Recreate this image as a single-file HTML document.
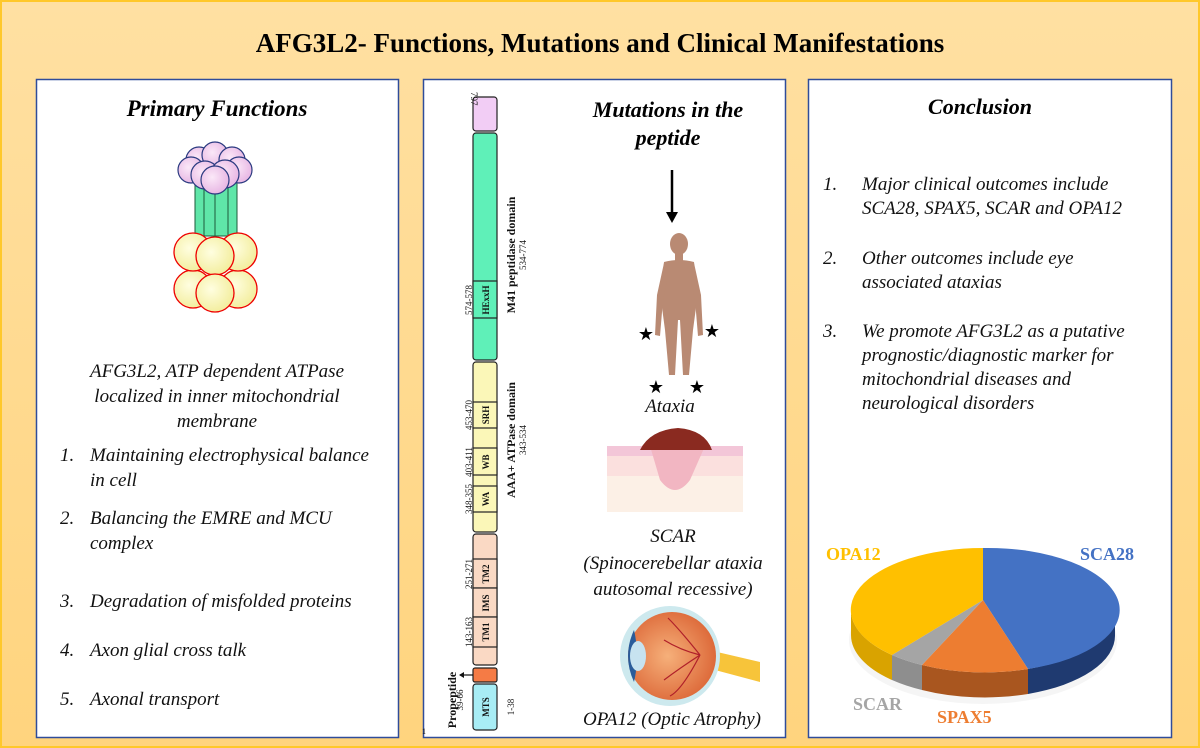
<!DOCTYPE html>
<html><head><meta charset="utf-8"><style>
html,body{margin:0;padding:0;width:1200px;height:748px;overflow:hidden}
svg{display:block}
text{font-family:"Liberation Serif",serif}
.it{font-style:italic;font-size:19px;fill:#111}
</style></head><body>
<svg width="1200" height="748" viewBox="0 0 1200 748" xmlns="http://www.w3.org/2000/svg">
<defs>
<linearGradient id="bg" x1="0" y1="0" x2="0" y2="1"><stop offset="0" stop-color="#FFE0A2"/><stop offset="1" stop-color="#FFD47E"/></linearGradient>
<radialGradient id="yb" cx="0.4" cy="0.4" r="0.6"><stop offset="0" stop-color="#FFFEE0"/><stop offset="1" stop-color="#F3EEA0"/></radialGradient>
<radialGradient id="pb" cx="0.4" cy="0.4" r="0.6"><stop offset="0" stop-color="#FBE8F8"/><stop offset="1" stop-color="#E8B8E4"/></radialGradient>
<radialGradient id="eye" cx="0.45" cy="0.5" r="0.55"><stop offset="0" stop-color="#F6B07A"/><stop offset="1" stop-color="#DD6A3A"/></radialGradient>
</defs>
<rect x="0" y="0" width="1200" height="748" fill="url(#bg)"/>
<rect x="1" y="1" width="1198" height="746" fill="none" stroke="#FFC82A" stroke-width="2"/>
<text x="600" y="52" text-anchor="middle" font-size="27" font-weight="bold" fill="#000">AFG3L2- Functions, Mutations and Clinical Manifestations</text>

<rect x="36.5" y="79.5" width="362" height="658" fill="#fff" stroke="#2F4C9A" stroke-width="1.5"/>
<rect x="423.5" y="79.5" width="362" height="658" fill="#fff" stroke="#2F4C9A" stroke-width="1.5"/>
<rect x="808.5" y="79.5" width="363" height="658" fill="#fff" stroke="#2F4C9A" stroke-width="1.5"/>

<!-- Left panel -->
<text x="217" y="116" text-anchor="middle" font-size="23" font-weight="bold" font-style="italic">Primary Functions</text>
<g stroke="#1E5A3A" stroke-width="1">
<rect x="195" y="178" width="42" height="58" fill="#5FE6A8"/>
<line x1="204" y1="180" x2="204" y2="236"/><line x1="215" y1="182" x2="215" y2="236"/><line x1="228" y1="180" x2="228" y2="236"/>
</g>
<g stroke="#E00" stroke-width="1.3" fill="url(#yb)">
<circle cx="193" cy="289" r="19"/><circle cx="238" cy="289" r="19"/>
<circle cx="193" cy="252" r="19"/><circle cx="238" cy="252" r="19"/>
<circle cx="215" cy="256" r="19"/><circle cx="215" cy="293" r="19"/>
</g>
<g stroke="#2A3A80" stroke-width="1.2" fill="url(#pb)">
<circle cx="199" cy="160" r="13"/><circle cx="215" cy="155" r="13"/><circle cx="232" cy="160" r="13"/>
<circle cx="191" cy="170" r="13"/><circle cx="239" cy="170" r="13"/>
<circle cx="205" cy="175" r="14"/><circle cx="225" cy="174" r="14"/><circle cx="215" cy="180" r="14"/>
</g>
<text class="it" x="217" y="377" text-anchor="middle">AFG3L2, ATP dependent ATPase</text>
<text class="it" x="217" y="402" text-anchor="middle">localized in inner mitochondrial</text>
<text class="it" x="217" y="427" text-anchor="middle">membrane</text>
<g class="it">
<text class="it" x="60" y="461">1.</text><text class="it" x="90" y="461">Maintaining electrophysical balance</text>
<text class="it" x="90" y="486">in cell</text>
<text class="it" x="60" y="524">2.</text><text class="it" x="90" y="524">Balancing the EMRE and MCU</text>
<text class="it" x="90" y="549">complex</text>
<text class="it" x="60" y="607">3.</text><text class="it" x="90" y="607">Degradation of  misfolded proteins</text>
<text class="it" x="60" y="656">4.</text><text class="it" x="90" y="656">Axon glial cross talk</text>
<text class="it" x="60" y="705">5.</text><text class="it" x="90" y="705">Axonal transport</text>
</g>

<!-- Middle: protein bar -->
<g stroke="#222" stroke-width="1.2">
<rect x="473" y="97" width="24" height="34" rx="3" fill="#F2CDF5"/>
<rect x="473" y="133" width="24" height="227" rx="3" fill="#5FF0B8"/>
<rect x="473" y="281" width="24" height="37" fill="#5FF0B8"/>
<rect x="473" y="362" width="24" height="170" rx="3" fill="#FBF7B8"/>
<rect x="473" y="402" width="24" height="26" fill="#FBF7B8"/>
<rect x="473" y="448" width="24" height="27" fill="#FBF7B8"/>
<rect x="473" y="486" width="24" height="26" fill="#FBF7B8"/>
<rect x="473" y="534" width="24" height="131" rx="3" fill="#FAD9C4"/>
<rect x="473" y="559" width="24" height="29" fill="#FAD9C4"/>
<rect x="473" y="588" width="24" height="29" fill="#FAD9C4"/>
<rect x="473" y="617" width="24" height="30" fill="#FAD9C4"/>
<rect x="473" y="668" width="24" height="14" rx="2" fill="#F57B45"/>
<rect x="473" y="684" width="24" height="46" rx="3" fill="#A8EDF5"/>
</g>
<g font-size="9" font-weight="bold" fill="#111">
<text transform="translate(489,300) rotate(-90)" text-anchor="middle">HExxH</text>
<text transform="translate(489,415) rotate(-90)" text-anchor="middle">SRH</text>
<text transform="translate(489,462) rotate(-90)" text-anchor="middle">WB</text>
<text transform="translate(489,499) rotate(-90)" text-anchor="middle">WA</text>
<text transform="translate(489,574) rotate(-90)" text-anchor="middle">TM2</text>
<text transform="translate(489,603) rotate(-90)" text-anchor="middle">IMS</text>
<text transform="translate(489,632) rotate(-90)" text-anchor="middle">TM1</text>
<text transform="translate(489,707) rotate(-90)" text-anchor="middle">MTS</text>
</g>
<g font-size="9" fill="#111">
<text transform="translate(471,92) rotate(90)">797</text>
<text transform="translate(472,300) rotate(-90)" text-anchor="middle">574-578</text>
<text transform="translate(472,415) rotate(-90)" text-anchor="middle">453-470</text>
<text transform="translate(472,462) rotate(-90)" text-anchor="middle">403-411</text>
<text transform="translate(472,499) rotate(-90)" text-anchor="middle">348-355</text>
<text transform="translate(472,574) rotate(-90)" text-anchor="middle">251-271</text>
<text transform="translate(472,632) rotate(-90)" text-anchor="middle">143-163</text>
<text transform="translate(514,707) rotate(-90)" text-anchor="middle">1-38</text>
<text transform="translate(463,700) rotate(-90)" text-anchor="middle">39-66</text>
<text transform="translate(526,255) rotate(-90)" text-anchor="middle">534-774</text>
<text transform="translate(526,440) rotate(-90)" text-anchor="middle">343-534</text>
</g>
<g font-size="12" font-weight="bold" fill="#111">
<text transform="translate(515,255) rotate(-90)" text-anchor="middle">M41 peptidase domain</text>
<text transform="translate(515,440) rotate(-90)" text-anchor="middle">AAA+ ATPase domain</text>
<text transform="translate(456,700) rotate(-90)" text-anchor="middle">Propeptide</text>
</g>
<line x1="473" y1="675" x2="460" y2="675" stroke="#111" stroke-width="1.2"/>
<path d="M459 675 l5 -3 v6z" fill="#111"/>
<text x="422" y="734" font-size="8">1</text>

<text x="668" y="117" text-anchor="middle" font-size="22" font-weight="bold" font-style="italic">Mutations in the</text>
<text x="668" y="145" text-anchor="middle" font-size="22" font-weight="bold" font-style="italic">peptide</text>
<line x1="672" y1="170" x2="672" y2="214" stroke="#000" stroke-width="2.5"/>
<path d="M666 212 L678 212 L672 223 Z" fill="#000"/>

<!-- human -->
<g fill="#B98A73">
<ellipse cx="679" cy="244" rx="9" ry="11"/>
<rect x="675" y="253" width="8" height="8"/>
<path d="M664 262 Q679 258 694 262 L697 300 L693 330 L689 375 L683 375 L680 320 L678 320 L675 375 L669 375 L665 330 L661 300 Z"/>
<path d="M664 263 L657 295 L655 335 L660 336 L663 300 L668 275 Z"/>
<path d="M694 263 L701 295 L703 335 L698 336 L695 300 L690 275 Z"/>
</g>
<g font-size="18" fill="#000">
<text x="646" y="340" text-anchor="middle">★</text><text x="712" y="337" text-anchor="middle">★</text>
<text x="656" y="393" text-anchor="middle">★</text><text x="697" y="393" text-anchor="middle">★</text>
</g>
<text class="it" x="670" y="412" text-anchor="middle">Ataxia</text>
<!-- scar -->
<rect x="607" y="450" width="136" height="62" fill="#FCF0E6"/>
<rect x="607" y="446" width="136" height="10" fill="#F3C6D8"/>
<rect x="607" y="456" width="136" height="20" fill="#FBE0DE"/>
<path d="M650 446 L705 446 L690 480 Q675 500 660 480 Z" fill="#F2B6C2"/>
<path d="M640 450 Q650 430 678 428 Q705 430 712 450 Z" fill="#8A2A20"/>
<text class="it" x="673" y="542" text-anchor="middle">SCAR</text>
<text class="it" x="673" y="569" text-anchor="middle">(Spinocerebellar ataxia</text>
<text class="it" x="673" y="595" text-anchor="middle">autosomal recessive)</text>
<!-- eye -->
<path d="M700 648 L760 662 L760 682 L700 666 Z" fill="#F7C43A"/>
<circle cx="670" cy="656" r="50" fill="#CDE9EE"/>
<circle cx="672" cy="656" r="44" fill="url(#eye)"/>
<path d="M634 630 Q622 656 634 682 Q640 656 634 630Z" fill="#2A5C9A"/>
<ellipse cx="638" cy="656" rx="8" ry="15" fill="#C7E3F0"/>
<g stroke="#B0202A" stroke-width="1.2" fill="none">
<path d="M700 655 Q680 630 668 618"/><path d="M700 655 Q680 650 664 640"/><path d="M700 655 Q680 668 664 680"/><path d="M700 655 Q682 690 670 696"/>
</g>
<text class="it" x="672" y="725" text-anchor="middle">OPA12 (Optic Atrophy)</text>

<!-- Right panel -->
<text x="980" y="114" text-anchor="middle" font-size="22" font-weight="bold" font-style="italic">Conclusion</text>
<text class="it" x="823" y="190">1.</text><text class="it" x="862" y="190">Major clinical outcomes include</text>
<text class="it" x="862" y="214">SCA28, SPAX5, SCAR and OPA12</text>
<text class="it" x="823" y="264">2.</text><text class="it" x="862" y="264">Other outcomes include eye</text>
<text class="it" x="862" y="288">associated ataxias</text>
<text class="it" x="823" y="337">3.</text><text class="it" x="862" y="337">We promote AFG3L2 as a putative</text>
<text class="it" x="862" y="361">prognostic/diagnostic marker for</text>
<text class="it" x="862" y="385">mitochondrial diseases and</text>
<text class="it" x="862" y="409">neurological disorders</text>

<!-- pie -->
<ellipse cx="983" cy="640" rx="134" ry="64" fill="#EEE" opacity="0.6"/>
<path d="M1115 610 A132 62 0 0 1 1028 669 L1028 694 A132 62 0 0 0 1115 635 Z" fill="#1F3A70"/>
<path d="M1028 669 A132 62 0 0 1 922 665 L922 690 A132 62 0 0 0 1028 694 Z" fill="#A9561F"/>
<path d="M922 665 A132 62 0 0 1 892 655 L892 680 A132 62 0 0 0 922 690 Z" fill="#8E8E8E"/>
<path d="M892 655 A132 62 0 0 1 851 610 L851 635 A132 62 0 0 0 892 680 Z" fill="#D9A300"/>
<path d="M983 600 L983 548 A132 62 0 0 1 1028 669 Z" fill="#4472C4"/>
<path d="M983 600 L1028 669 A132 62 0 0 1 922 665 Z" fill="#ED7D31"/>
<path d="M983 600 L922 665 A132 62 0 0 1 892 655 Z" fill="#A5A5A5"/>
<path d="M983 600 L892 655 A132 62 0 0 1 983 548 Z" fill="#FFC000"/>
<g font-size="18" font-weight="bold">
<text x="1080" y="560" fill="#4472C4">SCA28</text>
<text x="826" y="560" fill="#FFC000">OPA12</text>
<text x="853" y="710" fill="#A5A5A5">SCAR</text>
<text x="937" y="723" fill="#ED7D31">SPAX5</text>
</g>
</svg>
</body></html>
